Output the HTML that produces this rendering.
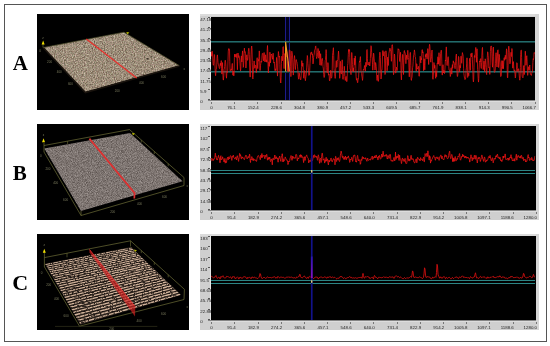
<!DOCTYPE html><html><head><meta charset="utf-8"><style>
html,body{margin:0;padding:0;background:#fff;}
body{width:550px;height:346px;overflow:hidden;position:relative;}
svg{position:absolute;left:0;top:0;}
.lt{font-family:"Liberation Serif",serif;font-weight:bold;font-size:21px;fill:#000;}
.ax{font-family:"Liberation Sans",sans-serif;font-size:4.4px;fill:#222;}
.tl{font-family:"Liberation Sans",sans-serif;font-size:3px;fill:#7a7a5c;}
</style></head><body>
<svg width="550" height="346" viewBox="0 0 550 346" shape-rendering="crispEdges">
<defs>
<filter id="nA" x="0" y="0" width="1" height="1" color-interpolation-filters="sRGB">
 <feTurbulence type="fractalNoise" baseFrequency="0.9 0.7" numOctaves="2" seed="4"/>
 <feColorMatrix type="matrix" values="0.6 0.12 0 0 0.25  0.6 0 0.12 0 0.19  0.6 0 0 0 0.175  0 0 0 0 1"/>
</filter>
<filter id="nB" x="0" y="0" width="1" height="1" color-interpolation-filters="sRGB">
 <feTurbulence type="fractalNoise" baseFrequency="1.2" numOctaves="2" seed="9"/>
 <feColorMatrix type="matrix" values="0.45 0 0 0 0.265  0.45 0 0 0 0.23  0.45 0 0 0 0.215  0 0 0 0 1"/>
</filter>
<filter id="nC" x="0" y="0" width="1" height="1" color-interpolation-filters="sRGB">
 <feTurbulence type="fractalNoise" baseFrequency="0.5 0.8" numOctaves="2" seed="2"/>
 <feColorMatrix type="matrix" values="0 0 0 0 0.08  0 0 0 0 0.06  0 0 0 0 0.05  -7 0 0 0 3.2"/>
</filter>
</defs>
<rect x="0" y="0" width="550" height="346" fill="#fff"/>
<rect x="4.5" y="4.5" width="542" height="337" fill="none" stroke="#555" stroke-width="1"/>

<text class="lt" x="12.8" y="69.7" style="font-size:21px">A</text>
<text class="lt" x="12.8" y="179.7" style="font-size:21px">B</text>
<text class="lt" x="12.3" y="290.3" style="font-size:22px">C</text>
<rect x="37" y="14" width="152" height="96" fill="#000"/>
<rect x="37" y="124" width="152" height="96" fill="#000"/>
<rect x="37" y="234" width="152" height="96" fill="#000"/>
<clipPath id="cA"><polygon points="43.5,47.5 124,32.2 179.3,65.6 85.3,92"/></clipPath>
<g clip-path="url(#cA)"><rect x="40" y="30" width="142" height="64" filter="url(#nA)"/></g>
<polyline points="43.5,48 85.3,92.6 179.3,66.1" fill="none" stroke="#1a140e" stroke-width="1.6" shape-rendering="auto"/>
<polyline points="43.5,47.5 124,32.2 179.3,65.6" fill="none" stroke="#4a4a2a" stroke-width="0.7" shape-rendering="auto"/>
<line x1="86.3" y1="38.9" x2="136.7" y2="78" stroke="#e8302c" stroke-width="1.25" shape-rendering="auto"/>
<ellipse cx="147.5" cy="58.8" rx="1.3" ry="0.9" fill="#2a2218" opacity="0.8" shape-rendering="auto"/><ellipse cx="151.5" cy="56.8" rx="0.9" ry="0.7" fill="#2a2218" opacity="0.6" shape-rendering="auto"/>
<line x1="43" y1="44" x2="43" y2="47.5" stroke="#7a7a3a" stroke-width="0.6" shape-rendering="auto"/>
<polygon points="41.6,44.4 43.1,40.4 44.6,44.4" fill="#f0e000" shape-rendering="auto"/>
<polygon points="126.2,32.0 129.4,32.4 127.6,34.2" fill="#c8c800" shape-rendering="auto"/>
<text class="tl" x="43.1" y="38.8" text-anchor="middle">z</text>
<text class="tl" x="40" y="52.4" text-anchor="middle">0</text>
<text class="tl" x="49.6" y="62.5" text-anchor="middle">200</text>
<text class="tl" x="59.3" y="73" text-anchor="middle">400</text>
<text class="tl" x="70.4" y="85.1" text-anchor="middle">600</text>
<text class="tl" x="117.3" y="92" text-anchor="middle">200</text>
<text class="tl" x="141.5" y="84.4" text-anchor="middle">400</text>
<text class="tl" x="163.6" y="78" text-anchor="middle">600</text>
<text class="tl" x="184.2" y="70.2" text-anchor="middle">x</text>
<clipPath id="cB"><polygon points="44.3,148.6 130,133 182.6,181.2 81,211"/></clipPath>
<g clip-path="url(#cB)"><rect x="40" y="128" width="148" height="86" filter="url(#nB)"/></g>
<polyline points="44,145.5 129.5,129.6 184,177.5" fill="none" stroke="#6e6e38" stroke-width="0.7" shape-rendering="auto"/>
<polyline points="44,152 81,215.5 184,185.5" fill="none" stroke="#6e6e38" stroke-width="0.7" shape-rendering="auto"/>
<line x1="44" y1="143" x2="44" y2="152" stroke="#6e6e38" stroke-width="0.7" shape-rendering="auto"/>
<line x1="184" y1="177.5" x2="184" y2="185.5" stroke="#6e6e38" stroke-width="0.7" shape-rendering="auto"/>
<line x1="81" y1="211" x2="81" y2="215.5" stroke="#6e6e38" stroke-width="0.7" shape-rendering="auto"/>
<line x1="67.6" y1="141.2" x2="67.6" y2="144" stroke="#6e6e38" stroke-width="0.6" shape-rendering="auto"/>
<line x1="141.3" y1="140" x2="141.3" y2="142.6" stroke="#6e6e38" stroke-width="0.6" shape-rendering="auto"/>
<line x1="154.3" y1="151.4" x2="154.3" y2="154" stroke="#6e6e38" stroke-width="0.6" shape-rendering="auto"/>
<line x1="168.2" y1="163.6" x2="168.2" y2="166.2" stroke="#6e6e38" stroke-width="0.6" shape-rendering="auto"/>
<polyline points="89.4,138.6 134.6,193.1 134.3,198.5" fill="none" stroke="#dc3030" stroke-width="1.7" shape-rendering="auto"/>
<polygon points="42,142.3 43.5,138.3 45,142.3" fill="#f0e000" shape-rendering="auto"/>
<polygon points="132,133 135,133.6 133,135.3" fill="#c8c800" shape-rendering="auto"/>
<text class="tl" x="43.5" y="135.8" text-anchor="middle">z</text>
<text class="tl" x="40.9" y="157.1" text-anchor="middle">0</text>
<text class="tl" x="47.9" y="169.5" text-anchor="middle">200</text>
<text class="tl" x="55.7" y="184.3" text-anchor="middle">400</text>
<text class="tl" x="65.6" y="200.7" text-anchor="middle">600</text>
<text class="tl" x="112.7" y="213.3" text-anchor="middle">200</text>
<text class="tl" x="139.5" y="205.3" text-anchor="middle">400</text>
<text class="tl" x="164.5" y="198.4" text-anchor="middle">600</text>
<text class="tl" x="187.3" y="187.1" text-anchor="middle">x</text>
<clipPath id="cC"><polygon points="45.1,263.8 130.8,246.9 181,295 80.5,324.8"/></clipPath>
<g clip-path="url(#cC)"><rect x="40" y="240" width="148" height="90" fill="#2a211b"/><line x1="43.6" y1="264.9" x2="133.5" y2="247.5" stroke="#d2b49c" stroke-width="1" stroke-dasharray="9.2 0.4 13.5 0.3 12 0.5 5.8 0.6 5.5 0.5 5.9 0.3 10.5 0.7 6.6 0.4 13.2 0.8 12.5 0.5 17.7 0.3 16.2 0.4 6.9 0.4 9 0.7 7.3 0.6 13.3 0.5 12.1 0.3 5.8 0.4 13.8 0.5 9.1 0.6" stroke-dashoffset="2.3" shape-rendering="auto"/><line x1="44.6" y1="266.7" x2="135" y2="248.9" stroke="#d2b49c" stroke-width="1" stroke-dasharray="8.9 0.7 14.1 0.4 12.5 0.6 16.4 0.7 8.7 0.8 6.5 0.5 14.8 0.4 11.4 0.3 13.7 0.7 12.4 0.7 9.1 0.6 12.7 0.6 10.9 0.7 17.3 0.5 13.6 0.3 14.1 0.6 17.9 0.7 8.7 0.5 13.7 0.3 11 0.4" stroke-dashoffset="0.6" shape-rendering="auto"/><line x1="45.7" y1="268.5" x2="136.5" y2="250.3" stroke="#d2b49c" stroke-width="1" stroke-dasharray="5.8 0.7 6.7 0.4 10.1 0.7 6 0.5 12.1 0.7 15.7 0.7 8.6 0.5 9.7 0.7 17.5 0.4 7.3 0.4 8 0.5 12.7 0.4 5.1 0.5 9.8 0.6 17.4 0.6 11.7 0.6 13.8 0.3 16.7 0.7 16.4 0.7 10.1 0.5" stroke-dashoffset="0.5" shape-rendering="auto"/><line x1="46.8" y1="270.3" x2="138" y2="251.8" stroke="#d2b49c" stroke-width="1" stroke-dasharray="13.2 0.3 5.9 0.4 7.1 0.5 5.7 0.3 7 0.4 9.7 0.3 16.4 0.6 6.9 0.4 9.5 0.5 6.6 0.7 17.9 0.5 11.3 0.3 6.3 0.5 8.4 0.7 7.1 0.3 17.4 0.6 6.9 0.6 5.4 0.6 17.7 0.7 14.1 0.4" stroke-dashoffset="1.8" shape-rendering="auto"/><line x1="47.9" y1="272.2" x2="139.6" y2="253.3" stroke="#d2b49c" stroke-width="1.1" stroke-dasharray="7.2 0.7 11.9 0.7 9.3 0.4 15.5 0.8 16.1 0.7 15.6 0.7 7.9 0.6 9.6 0.3 5.4 0.4 8.4 0.6 17.4 0.5 17.2 0.8 17.4 0.5 7.9 0.4 7.6 0.4 13.1 0.8 15.9 0.5 13.5 0.7 6.1 0.6 16.8 0.7" stroke-dashoffset="3.8" shape-rendering="auto"/><line x1="49" y1="274.1" x2="141.1" y2="254.8" stroke="#d2b49c" stroke-width="1.1" stroke-dasharray="11.2 0.4 15.3 0.5 15.4 0.8 10.1 0.5 17.3 0.7 7.2 0.4 7 0.8 15.5 0.4 15.7 0.8 13.5 0.5 12.1 0.4 5.2 0.8 13.4 0.6 17.1 0.5 16.3 0.7 7.7 0.4 8.8 0.4 12.6 0.4 10.4 0.4 16.8 0.5" stroke-dashoffset="2.3" shape-rendering="auto"/><line x1="50.1" y1="276.1" x2="142.8" y2="256.4" stroke="#d2b49c" stroke-width="1.1" stroke-dasharray="12.6 0.8 10.5 0.8 11.5 0.6 11.8 0.3 10.7 0.4 5.1 0.7 7.2 0.5 14.4 0.6 9.2 0.6 12.2 0.7 6.4 0.6 8.2 0.4 15 0.6 12.3 0.7 16.9 0.5 13 0.6 11.7 0.6 10.9 0.6 11.2 0.8 14.1 0.7" stroke-dashoffset="4.7" shape-rendering="auto"/><line x1="51.3" y1="278.1" x2="144.4" y2="257.9" stroke="#d2b49c" stroke-width="1.1" stroke-dasharray="8.4 0.6 17.3 0.7 6.8 0.4 10.7 0.3 8.1 0.3 13.7 0.7 16.7 0.4 14.3 0.6 6.9 0.7 17.6 0.4 17.4 0.5 11.3 0.8 15.8 0.4 10.6 0.6 9.4 0.4 9.1 0.7 5.3 0.6 10.7 0.3 9.3 0.6 11.7 0.3" stroke-dashoffset="4.9" shape-rendering="auto"/><line x1="52.5" y1="280.2" x2="146.1" y2="259.5" stroke="#d2b49c" stroke-width="1.1" stroke-dasharray="15.2 0.8 6.4 0.4 5.5 0.7 8.5 0.4 10.5 0.8 15.6 0.4 6.9 0.8 12.4 0.7 6.2 0.3 13.9 0.5 5.9 0.8 13.2 0.7 6.1 0.7 5.9 0.7 10.9 0.5 12.2 0.8 8.5 0.4 11.8 0.4 6.4 0.4 5.7 0.4" stroke-dashoffset="1.6" shape-rendering="auto"/><line x1="53.7" y1="282.3" x2="147.8" y2="261.2" stroke="#d2b49c" stroke-width="1.1" stroke-dasharray="9 0.7 8.8 0.6 7.3 0.5 5.2 0.4 5.2 0.7 12.2 0.4 11.2 0.8 6.4 0.7 10.6 0.5 15.8 0.5 11.6 0.6 17.8 0.5 15.8 0.7 13.3 0.5 9.5 0.3 6.7 0.3 14.6 0.4 7.1 0.3 15.9 0.7 13.7 0.4" stroke-dashoffset="1.2" shape-rendering="auto"/><line x1="54.9" y1="284.4" x2="149.6" y2="262.9" stroke="#d2b49c" stroke-width="1.2" stroke-dasharray="8.8 0.5 7 0.5 8.4 0.8 17.6 0.6 8.2 0.8 9 0.5 5 0.5 11.2 0.6 7.6 0.6 5.1 0.4 6.2 0.5 5.5 0.3 9 0.4 12.6 0.6 14.8 0.6 14.3 0.7 10.1 0.5 17.8 0.4 14.4 0.6 5.6 0.7" stroke-dashoffset="4.5" shape-rendering="auto"/><line x1="56.2" y1="286.5" x2="151.3" y2="264.6" stroke="#d2b49c" stroke-width="1.2" stroke-dasharray="13.2 0.7 15.6 0.4 11.8 0.6 15.9 0.7 15.7 0.6 16.6 0.6 14 0.4 5.4 0.4 9.7 0.4 15.9 0.6 13.2 0.6 13.8 0.5 5 0.7 14.7 0.6 12 0.6 5.9 0.7 8.3 0.3 8.5 0.7 7.7 0.7 17.7 0.5" stroke-dashoffset="1.9" shape-rendering="auto"/><line x1="57.5" y1="288.7" x2="153.2" y2="266.3" stroke="#d2b49c" stroke-width="1.2" stroke-dasharray="11.2 0.6 15 0.6 13.4 0.3 6.9 0.4 14.7 0.5 12.4 0.3 5.8 0.4 13.7 0.6 13.8 0.4 11.7 0.5 11.1 0.4 16.6 0.4 17.7 0.8 5.2 0.5 15.7 0.8 10.8 0.4 7.7 0.8 7.7 0.6 6.8 0.6 17.4 0.4" stroke-dashoffset="4.1" shape-rendering="auto"/><line x1="58.8" y1="291" x2="155" y2="268.1" stroke="#d2b49c" stroke-width="1.2" stroke-dasharray="11.6 0.7 14.1 0.4 16.7 0.5 5.3 0.3 11.4 0.5 8.9 0.4 9.5 0.5 15.9 0.3 14.8 0.7 6.6 0.8 14.3 0.8 8.8 0.5 10.1 0.8 12.7 0.5 10.6 0.4 5.6 0.4 15.9 0.4 17.2 0.4 8.5 0.6 7.5 0.5" stroke-dashoffset="4.8" shape-rendering="auto"/><line x1="60.1" y1="293.3" x2="156.9" y2="269.9" stroke="#d2b49c" stroke-width="1.2" stroke-dasharray="16.5 0.7 13.2 0.8 17.2 0.6 14.4 0.3 14.5 0.5 14.8 0.6 8.7 0.3 17 0.4 11.1 0.5 8.9 0.7 17.7 0.4 13.5 0.5 12.2 0.5 7.2 0.4 7.7 0.8 11.5 0.4 16.8 0.8 10.8 0.4 7.5 0.3 9.4 0.3" stroke-dashoffset="1.2" shape-rendering="auto"/><line x1="61.4" y1="295.6" x2="158.8" y2="271.7" stroke="#d2b49c" stroke-width="1.2" stroke-dasharray="8.4 0.6 16.5 0.7 10.4 0.5 11.8 0.5 9.4 0.3 8.6 0.8 6.6 0.6 13.2 0.7 7.8 0.4 8.2 0.5 10.8 0.8 16 0.7 5.3 0.3 14.2 0.7 11.2 0.6 5 0.5 17 0.7 16.1 0.8 8.2 0.4 7 0.6" stroke-dashoffset="3.4" shape-rendering="auto"/><line x1="62.8" y1="297.9" x2="160.7" y2="273.6" stroke="#d2b49c" stroke-width="1.3" stroke-dasharray="17.2 0.7 13.4 0.7 10.9 0.6 5.5 0.7 8 0.8 13.4 0.5 6.7 0.4 13.3 0.6 6.5 0.3 11.8 0.6 10 0.4 12.8 0.3 8.9 0.5 17.5 0.6 16.5 0.5 8.1 0.4 17.5 0.7 9 0.3 11.5 0.6 10.5 0.4" stroke-dashoffset="3.3" shape-rendering="auto"/><line x1="64.2" y1="300.3" x2="162.7" y2="275.4" stroke="#d2b49c" stroke-width="1.3" stroke-dasharray="17 0.4 5.4 0.5 10.5 0.6 7.6 0.7 14.6 0.6 7.7 0.8 9.1 0.7 8 0.4 14.9 0.4 17.4 0.5 7.4 0.4 10.4 0.6 17.3 0.4 10.1 0.4 17.7 0.4 5.7 0.3 10.1 0.7 16.5 0.7 18 0.8 9.3 0.4" stroke-dashoffset="4.7" shape-rendering="auto"/><line x1="65.6" y1="302.8" x2="164.7" y2="277.4" stroke="#d2b49c" stroke-width="1.3" stroke-dasharray="14.7 0.3 13.6 0.5 9.9 0.5 7.2 0.3 8.6 0.5 17.4 0.4 17.5 0.4 9.6 0.7 15.7 0.5 5.6 0.5 9.8 0.8 7.5 0.5 16.7 0.3 10.3 0.7 15 0.3 5.5 0.3 17 0.4 14.7 0.7 9.4 0.4 17.4 0.6" stroke-dashoffset="1.3" shape-rendering="auto"/><line x1="67" y1="305.2" x2="166.7" y2="279.3" stroke="#d2b49c" stroke-width="1.3" stroke-dasharray="14.3 0.5 8.6 0.3 14.8 0.8 13.2 0.8 5.3 0.4 11.2 0.8 17.4 0.5 8.3 0.5 11.4 0.8 7.4 0.7 14.6 0.7 15 0.6 9.3 0.5 9.7 0.7 6 0.4 14.8 0.4 5.8 0.3 12.2 0.5 17.7 0.7 17.8 0.4" stroke-dashoffset="0.4" shape-rendering="auto"/><line x1="68.5" y1="307.7" x2="168.8" y2="281.3" stroke="#d2b49c" stroke-width="1.3" stroke-dasharray="6.3 0.5 14.2 0.5 8 0.5 13.1 0.6 14.7 0.7 13.6 0.4 15.9 0.4 12.4 0.5 14.6 0.4 8.2 0.4 7 0.7 12.5 0.5 10.1 0.8 11.6 0.4 15.5 0.6 17.9 0.4 11.2 0.7 15.9 0.8 5.5 0.4 6.5 0.4" stroke-dashoffset="4.9" shape-rendering="auto"/><line x1="70" y1="310.3" x2="170.9" y2="283.3" stroke="#d2b49c" stroke-width="1.3" stroke-dasharray="12.6 0.8 9.8 0.7 10.8 0.4 15.1 0.8 6.4 0.6 13.1 0.4 9.8 0.4 7.7 0.4 12.8 0.6 7.6 0.3 9.3 0.6 7.4 0.5 7.6 0.7 12.1 0.3 6.3 0.5 12.2 0.6 6.2 0.4 14 0.5 8.7 0.5 17.4 0.5" stroke-dashoffset="2.8" shape-rendering="auto"/><line x1="71.5" y1="312.9" x2="173" y2="285.3" stroke="#d2b49c" stroke-width="1.4" stroke-dasharray="9.6 0.5 16.2 0.8 9.7 0.4 14.5 0.4 5.1 0.8 10.5 0.7 10.3 0.7 11 0.4 5.2 0.6 13.3 0.8 6.2 0.6 9.8 0.6 6.9 0.4 11.8 0.8 6.4 0.5 15.5 0.8 7.6 0.4 17.3 0.8 11.3 0.3 17 0.5" stroke-dashoffset="4.5" shape-rendering="auto"/><line x1="73" y1="315.5" x2="175.2" y2="287.4" stroke="#d2b49c" stroke-width="1.4" stroke-dasharray="13.1 0.7 7.1 0.7 7.9 0.5 16 0.7 7.4 0.4 10.2 0.6 10 0.4 8.2 0.7 16.7 0.3 12.3 0.7 5.5 0.7 6.5 0.6 12.2 0.6 9 0.5 12.6 0.5 13.6 0.5 10.7 0.3 13 0.5 8.1 0.7 15.1 0.5" stroke-dashoffset="0.9" shape-rendering="auto"/><line x1="74.5" y1="318.2" x2="177.4" y2="289.5" stroke="#d2b49c" stroke-width="1.4" stroke-dasharray="11.2 0.4 6.7 0.5 6.2 0.5 11.6 0.3 13.3 0.3 14.5 0.7 11.6 0.3 11.6 0.5 17.4 0.4 16.1 0.8 14.5 0.7 7.5 0.8 11.4 0.8 16.9 0.4 15.2 0.8 5.9 0.5 14.8 0.4 16.7 0.4 15.6 0.4 11.5 0.8" stroke-dashoffset="1" shape-rendering="auto"/><line x1="76.1" y1="320.9" x2="179.6" y2="291.6" stroke="#d2b49c" stroke-width="1.4" stroke-dasharray="8.4 0.6 9.1 0.3 7.4 0.4 17.2 0.6 16.6 0.4 15.2 0.4 11.9 0.6 9.7 0.7 12.2 0.6 16.5 0.4 17.9 0.6 10.1 0.7 8.4 0.8 12.5 0.5 14.9 0.5 7.3 0.7 5.6 0.7 8.3 0.6 17.8 0.6 13.6 0.5" stroke-dashoffset="0" shape-rendering="auto"/><line x1="77.7" y1="323.6" x2="181.9" y2="293.8" stroke="#d2b49c" stroke-width="1.4" stroke-dasharray="5.4 0.4 13 0.5 11.7 0.7 6.7 0.4 13.5 0.3 5 0.5 6.4 0.5 7.9 0.6 12.7 0.4 13.1 0.5 6.8 0.8 8.2 0.4 6.2 0.6 16.3 0.7 10.2 0.4 5.1 0.6 12.3 0.5 13.4 0.5 17.2 0.7 8.2 0.8" stroke-dashoffset="0.2" shape-rendering="auto"/><rect x="40" y="240" width="148" height="90" fill="#000" filter="url(#nC)" opacity="0.85"/></g>
<polyline points="44.4,257.6 130.5,240.8 184.5,289.4" fill="none" stroke="#6e6e38" stroke-width="0.7" shape-rendering="auto"/>
<polyline points="44.5,267 79.5,326.2 184,299.5" fill="none" stroke="#6e6e38" stroke-width="0.7" shape-rendering="auto"/>
<line x1="44.4" y1="252" x2="44.4" y2="267" stroke="#6e6e38" stroke-width="0.7" shape-rendering="auto"/>
<line x1="184.4" y1="289.4" x2="184" y2="299.5" stroke="#6e6e38" stroke-width="0.7" shape-rendering="auto"/>
<line x1="130.5" y1="240.8" x2="130.5" y2="246.5" stroke="#6e6e38" stroke-width="0.6" shape-rendering="auto"/>
<line x1="141.3" y1="250.5" x2="141.3" y2="253.1" stroke="#6e6e38" stroke-width="0.6" shape-rendering="auto"/>
<line x1="154.3" y1="262.2" x2="154.3" y2="264.8" stroke="#6e6e38" stroke-width="0.6" shape-rendering="auto"/>
<line x1="168.2" y1="274.7" x2="168.2" y2="277.3" stroke="#6e6e38" stroke-width="0.6" shape-rendering="auto"/>
<polygon points="134,249.6 137,250.2 135,251.9" fill="#b8b800" shape-rendering="auto"/>
<line x1="67" y1="253" x2="67" y2="257.3" stroke="#6e6e38" stroke-width="0.6" shape-rendering="auto"/>
<polygon points="89.5,249.3 135.3,306.8 135,316.4 89.5,252.6" fill="#d82020" opacity="0.65" shape-rendering="auto"/>
<line x1="89.5" y1="249.5" x2="135.3" y2="306.8" stroke="#f03030" stroke-width="0.8" shape-rendering="auto"/>
<polygon points="42.8,252.8 44.3,248.8 45.8,252.8" fill="#f0e000" shape-rendering="auto"/>
<line x1="55" y1="326.4" x2="157.3" y2="326.4" stroke="#3a3a22" stroke-width="0.6" shape-rendering="auto"/>
<text class="tl" x="44.3" y="245.8" text-anchor="middle">z</text>
<text class="tl" x="41.7" y="273.6" text-anchor="middle">0</text>
<text class="tl" x="48.7" y="285.8" text-anchor="middle">200</text>
<text class="tl" x="56.5" y="300.3" text-anchor="middle">400</text>
<text class="tl" x="66.1" y="316.9" text-anchor="middle">600</text>
<text class="tl" x="111.8" y="329.8" text-anchor="middle">200</text>
<text class="tl" x="139.1" y="322" text-anchor="middle">400</text>
<text class="tl" x="163.6" y="314.7" text-anchor="middle">600</text>
<text class="tl" x="187.3" y="307.5" text-anchor="middle">x</text>
<rect x="200" y="14" width="339" height="96" fill="#cfcfcf"/>
<rect x="200" y="14" width="339" height="2" fill="#dcdcdc"/>
<rect x="535" y="14" width="4" height="96" fill="#d6d6d6"/>
<rect x="211" y="17" width="324" height="83" fill="#000"/>
<rect x="210" y="17" width="1" height="83" fill="#e6e6e6"/>
<rect x="208" y="100" width="327" height="1" fill="#858585"/>
<rect x="211" y="101" width="324" height="1" fill="#dddddd"/>
<text class="ax" x="200.3" y="21">47.18</text>
<rect x="208" y="17" width="2" height="1" fill="#555"/>
<text class="ax" x="200.3" y="31.2">41.27</text>
<rect x="208" y="27" width="2" height="1" fill="#555"/>
<text class="ax" x="200.3" y="41.5">35.37</text>
<rect x="208" y="38" width="2" height="1" fill="#555"/>
<text class="ax" x="200.3" y="51.8">29.45</text>
<rect x="208" y="48" width="2" height="1" fill="#555"/>
<text class="ax" x="200.3" y="62">23.56</text>
<rect x="208" y="58" width="2" height="1" fill="#555"/>
<text class="ax" x="200.3" y="72.2">17.65</text>
<rect x="208" y="68" width="2" height="1" fill="#555"/>
<text class="ax" x="200.3" y="82.5">11.75</text>
<rect x="208" y="78" width="2" height="1" fill="#555"/>
<text class="ax" x="200.3" y="92.8">5.9</text>
<rect x="208" y="89" width="2" height="1" fill="#555"/>
<text class="ax" x="200.3" y="103">0</text>
<rect x="208" y="99" width="2" height="1" fill="#555"/>
<rect x="211" y="102" width="1" height="2" fill="#777"/>
<text class="ax" x="212.6" y="109" text-anchor="end">0</text>
<rect x="234" y="102" width="1" height="2" fill="#777"/>
<text class="ax" x="235.7" y="109" text-anchor="end">76.1</text>
<rect x="257" y="102" width="1" height="2" fill="#777"/>
<text class="ax" x="258.8" y="109" text-anchor="end">152.4</text>
<rect x="281" y="102" width="1" height="2" fill="#777"/>
<text class="ax" x="281.9" y="109" text-anchor="end">228.6</text>
<rect x="304" y="102" width="1" height="2" fill="#777"/>
<text class="ax" x="305" y="109" text-anchor="end">304.8</text>
<rect x="327" y="102" width="1" height="2" fill="#777"/>
<text class="ax" x="328.1" y="109" text-anchor="end">380.9</text>
<rect x="350" y="102" width="1" height="2" fill="#777"/>
<text class="ax" x="351.1" y="109" text-anchor="end">457.2</text>
<rect x="373" y="102" width="1" height="2" fill="#777"/>
<text class="ax" x="374.2" y="109" text-anchor="end">533.3</text>
<rect x="396" y="102" width="1" height="2" fill="#777"/>
<text class="ax" x="397.3" y="109" text-anchor="end">609.5</text>
<rect x="419" y="102" width="1" height="2" fill="#777"/>
<text class="ax" x="420.4" y="109" text-anchor="end">685.7</text>
<rect x="442" y="102" width="1" height="2" fill="#777"/>
<text class="ax" x="443.5" y="109" text-anchor="end">761.9</text>
<rect x="465" y="102" width="1" height="2" fill="#777"/>
<text class="ax" x="466.6" y="109" text-anchor="end">838.1</text>
<rect x="488" y="102" width="1" height="2" fill="#777"/>
<text class="ax" x="489.7" y="109" text-anchor="end">914.3</text>
<rect x="511" y="102" width="1" height="2" fill="#777"/>
<text class="ax" x="512.8" y="109" text-anchor="end">990.5</text>
<rect x="535" y="102" width="1" height="2" fill="#777"/>
<text class="ax" x="535.9" y="109" text-anchor="end">1066.7</text>
<rect x="200" y="124" width="339" height="96" fill="#cfcfcf"/>
<rect x="200" y="124" width="339" height="2" fill="#dcdcdc"/>
<rect x="536" y="124" width="3" height="96" fill="#d6d6d6"/>
<rect x="211" y="126" width="325" height="84" fill="#000"/>
<rect x="210" y="126" width="1" height="84" fill="#e6e6e6"/>
<rect x="208" y="210" width="328" height="1" fill="#858585"/>
<rect x="211" y="211" width="325" height="1" fill="#dddddd"/>
<text class="ax" x="200.3" y="130">117</text>
<rect x="208" y="126" width="2" height="1" fill="#555"/>
<text class="ax" x="200.3" y="140.4">102</text>
<rect x="208" y="136" width="2" height="1" fill="#555"/>
<text class="ax" x="200.3" y="150.8">87.5</text>
<rect x="208" y="147" width="2" height="1" fill="#555"/>
<text class="ax" x="200.3" y="161.1">72.92</text>
<rect x="208" y="157" width="2" height="1" fill="#555"/>
<text class="ax" x="200.3" y="171.5">58.34</text>
<rect x="208" y="168" width="2" height="1" fill="#555"/>
<text class="ax" x="200.3" y="181.9">43.75</text>
<rect x="208" y="178" width="2" height="1" fill="#555"/>
<text class="ax" x="200.3" y="192.2">29.17</text>
<rect x="208" y="188" width="2" height="1" fill="#555"/>
<text class="ax" x="200.3" y="202.6">14.58</text>
<rect x="208" y="199" width="2" height="1" fill="#555"/>
<text class="ax" x="200.3" y="213">0</text>
<rect x="208" y="209" width="2" height="1" fill="#555"/>
<rect x="211" y="212" width="1" height="2" fill="#777"/>
<text class="ax" x="212.6" y="219" text-anchor="end">0</text>
<rect x="234" y="212" width="1" height="2" fill="#777"/>
<text class="ax" x="235.8" y="219" text-anchor="end">91.4</text>
<rect x="258" y="212" width="1" height="2" fill="#777"/>
<text class="ax" x="258.9" y="219" text-anchor="end">182.9</text>
<rect x="281" y="212" width="1" height="2" fill="#777"/>
<text class="ax" x="282.1" y="219" text-anchor="end">274.2</text>
<rect x="304" y="212" width="1" height="2" fill="#777"/>
<text class="ax" x="305.3" y="219" text-anchor="end">365.6</text>
<rect x="327" y="212" width="1" height="2" fill="#777"/>
<text class="ax" x="328.5" y="219" text-anchor="end">457.1</text>
<rect x="350" y="212" width="1" height="2" fill="#777"/>
<text class="ax" x="351.6" y="219" text-anchor="end">548.6</text>
<rect x="373" y="212" width="1" height="2" fill="#777"/>
<text class="ax" x="374.8" y="219" text-anchor="end">640.0</text>
<rect x="397" y="212" width="1" height="2" fill="#777"/>
<text class="ax" x="398" y="219" text-anchor="end">731.4</text>
<rect x="420" y="212" width="1" height="2" fill="#777"/>
<text class="ax" x="421.1" y="219" text-anchor="end">822.9</text>
<rect x="443" y="212" width="1" height="2" fill="#777"/>
<text class="ax" x="444.3" y="219" text-anchor="end">914.2</text>
<rect x="466" y="212" width="1" height="2" fill="#777"/>
<text class="ax" x="467.5" y="219" text-anchor="end">1005.8</text>
<rect x="489" y="212" width="1" height="2" fill="#777"/>
<text class="ax" x="490.6" y="219" text-anchor="end">1097.1</text>
<rect x="513" y="212" width="1" height="2" fill="#777"/>
<text class="ax" x="513.8" y="219" text-anchor="end">1188.6</text>
<rect x="536" y="212" width="1" height="2" fill="#777"/>
<text class="ax" x="537" y="219" text-anchor="end">1280.0</text>
<rect x="200" y="234" width="339" height="96" fill="#cfcfcf"/>
<rect x="200" y="234" width="339" height="2" fill="#dcdcdc"/>
<rect x="536" y="234" width="3" height="96" fill="#d6d6d6"/>
<rect x="211" y="236" width="325" height="84" fill="#000"/>
<rect x="210" y="236" width="1" height="84" fill="#e6e6e6"/>
<rect x="208" y="320" width="328" height="1" fill="#858585"/>
<rect x="211" y="321" width="325" height="1" fill="#dddddd"/>
<text class="ax" x="200.3" y="240">183</text>
<rect x="208" y="236" width="2" height="1" fill="#555"/>
<text class="ax" x="200.3" y="250.4">160</text>
<rect x="208" y="246" width="2" height="1" fill="#555"/>
<text class="ax" x="200.3" y="260.8">137</text>
<rect x="208" y="257" width="2" height="1" fill="#555"/>
<text class="ax" x="200.3" y="271.1">114</text>
<rect x="208" y="267" width="2" height="1" fill="#555"/>
<text class="ax" x="200.3" y="281.5">91.5</text>
<rect x="208" y="278" width="2" height="1" fill="#555"/>
<text class="ax" x="200.3" y="291.9">68.63</text>
<rect x="208" y="288" width="2" height="1" fill="#555"/>
<text class="ax" x="200.3" y="302.2">45.75</text>
<rect x="208" y="298" width="2" height="1" fill="#555"/>
<text class="ax" x="200.3" y="312.6">22.88</text>
<rect x="208" y="309" width="2" height="1" fill="#555"/>
<text class="ax" x="200.3" y="323">0</text>
<rect x="208" y="319" width="2" height="1" fill="#555"/>
<rect x="211" y="322" width="1" height="2" fill="#777"/>
<text class="ax" x="212.6" y="329" text-anchor="end">0</text>
<rect x="234" y="322" width="1" height="2" fill="#777"/>
<text class="ax" x="235.8" y="329" text-anchor="end">91.4</text>
<rect x="258" y="322" width="1" height="2" fill="#777"/>
<text class="ax" x="258.9" y="329" text-anchor="end">182.9</text>
<rect x="281" y="322" width="1" height="2" fill="#777"/>
<text class="ax" x="282.1" y="329" text-anchor="end">274.2</text>
<rect x="304" y="322" width="1" height="2" fill="#777"/>
<text class="ax" x="305.3" y="329" text-anchor="end">365.6</text>
<rect x="327" y="322" width="1" height="2" fill="#777"/>
<text class="ax" x="328.5" y="329" text-anchor="end">457.1</text>
<rect x="350" y="322" width="1" height="2" fill="#777"/>
<text class="ax" x="351.6" y="329" text-anchor="end">548.6</text>
<rect x="373" y="322" width="1" height="2" fill="#777"/>
<text class="ax" x="374.8" y="329" text-anchor="end">640.0</text>
<rect x="397" y="322" width="1" height="2" fill="#777"/>
<text class="ax" x="398" y="329" text-anchor="end">731.4</text>
<rect x="420" y="322" width="1" height="2" fill="#777"/>
<text class="ax" x="421.1" y="329" text-anchor="end">822.9</text>
<rect x="443" y="322" width="1" height="2" fill="#777"/>
<text class="ax" x="444.3" y="329" text-anchor="end">914.2</text>
<rect x="466" y="322" width="1" height="2" fill="#777"/>
<text class="ax" x="467.5" y="329" text-anchor="end">1005.8</text>
<rect x="489" y="322" width="1" height="2" fill="#777"/>
<text class="ax" x="490.6" y="329" text-anchor="end">1097.1</text>
<rect x="513" y="322" width="1" height="2" fill="#777"/>
<text class="ax" x="513.8" y="329" text-anchor="end">1188.6</text>
<rect x="536" y="322" width="1" height="2" fill="#777"/>
<text class="ax" x="537" y="329" text-anchor="end">1280.0</text>
<clipPath id="pA"><rect x="211" y="17" width="324" height="83"/></clipPath><clipPath id="pB"><rect x="211" y="126" width="325" height="84"/></clipPath><clipPath id="pC"><rect x="211" y="236" width="325" height="84"/></clipPath>
<rect x="285" y="17" width="5" height="83" fill="#00001c"/>
<rect x="285" y="17" width="1" height="83" fill="#1c1c8c"/>
<rect x="289" y="17" width="1" height="83" fill="#1c1c8c"/>
<rect x="211" y="41" width="324" height="1" fill="#226a6a"/><rect x="211" y="42" width="324" height="1" fill="#123c3c"/>
<rect x="211" y="71" width="324" height="1" fill="#226a6a"/><rect x="211" y="72" width="324" height="1" fill="#123c3c"/>
<polyline clip-path="url(#pA)" points="211,52.4 211.3,51.9 211.6,56.2 211.9,56.2 212.2,51.2 212.5,52.5 212.8,59 213.1,64.1 213.4,65.3 213.7,63.5 214,58.3 214.3,54.5 214.6,55.2 214.9,63 215.3,73.4 215.6,75.7 215.9,72.1 216.2,69.4 216.5,68.9 216.8,64.1 217.1,56.9 217.4,54.9 217.7,58.3 218,62.6 218.3,64.6 218.6,64.7 218.9,66.2 219.2,67.8 219.5,68.7 219.8,68.2 220.1,64 220.4,63.2 220.7,65.6 221,62.5 221.3,60.6 221.6,68.7 221.9,74.1 222.2,68.8 222.5,62.6 222.8,70.1 223.1,78.9 223.4,80.1 223.8,75.7 224.1,69.6 224.4,68.8 224.7,66.5 225,61 225.3,60.2 225.6,62.1 225.9,66.2 226.2,75.9 226.5,78.2 226.8,73.8 227.1,71.6 227.4,72.4 227.7,70.2 228,60 228.3,51.1 228.6,48.7 228.9,49.4 229.2,48.8 229.5,49.7 229.8,61.6 230.1,71.3 230.4,71 230.7,70.2 231,68.9 231.3,69.1 231.6,70.4 232,65.3 232.3,63.4 232.6,70.7 232.9,75.2 233.2,72.8 233.5,71.1 233.8,75.9 234.1,72.9 234.4,57.5 234.7,54.1 235,56.9 235.3,54.4 235.6,55.1 235.9,57 236.2,57.5 236.5,55.7 236.8,53.6 237.1,61.4 237.4,69.7 237.7,61.1 238,53 238.3,56.5 238.6,57.5 238.9,55.6 239.2,56.6 239.5,57.9 239.8,60.6 240.2,66.5 240.5,70.8 240.8,68.9 241.1,59.8 241.4,55.9 241.7,61.7 242,62 242.3,54 242.6,50.9 242.9,57 243.2,67.4 243.5,67 243.8,60.5 244.1,51.6 244.4,48.1 244.7,52.3 245,52.3 245.3,51.7 245.6,60.6 245.9,68 246.2,64.9 246.5,57.5 246.8,54.8 247.1,57.1 247.4,60.4 247.7,59.8 248,56.5 248.3,51.7 248.7,48.2 249,48.8 249.3,54.5 249.6,66 249.9,74.7 250.2,77.1 250.5,71.2 250.8,60 251.1,54.1 251.4,48 251.7,46 252,49 252.3,62.4 252.6,77.6 252.9,78.9 253.2,74.7 253.5,69.6 253.8,64.3 254.1,60.9 254.4,63.3 254.7,68.2 255,67.7 255.3,66.4 255.6,65.3 255.9,66.7 256.2,72.7 256.5,72.1 256.9,60.1 257.2,57.7 257.5,67.1 257.8,68.6 258.1,62.7 258.4,59.5 258.7,60.8 259,57 259.3,50.9 259.6,56.8 259.9,70.5 260.2,70.5 260.5,65.4 260.8,63.6 261.1,61.1 261.4,62.2 261.7,62.1 262,55.8 262.3,53.6 262.6,53.1 262.9,53.6 263.2,58.7 263.5,60.8 263.8,55.9 264.1,52.5 264.4,56 264.7,61.8 265.1,61.4 265.4,54.8 265.7,55 266,61.9 266.3,59.8 266.6,60.1 266.9,62.3 267.2,50 267.5,45.5 267.8,51.7 268.1,68.1 268.4,73 268.7,66.5 269,61.8 269.3,66.4 269.6,62.8 269.9,52.2 270.2,55.6 270.5,62.8 270.8,58.9 271.1,55 271.4,54 271.7,55.3 272,55.5 272.3,57.5 272.6,59.3 272.9,53.8 273.2,53.2 273.6,59.9 273.9,63.2 274.2,62.1 274.5,63.4 274.8,69 275.1,70.8 275.4,68.8 275.7,70.4 276,70.3 276.3,63.4 276.6,57.4 276.9,60.7 277.2,71.2 277.5,76.1 277.8,70.7 278.1,57.1 278.4,51.5 278.7,53.8 279,57.2 279.3,56.4 279.6,56 279.9,64.5 280.2,76 280.5,82 280.8,83 281.1,77.4 281.4,63.3 281.8,56.2 282.1,58.5 282.4,60.9 282.7,53.4 283,47 283.3,46.6 283.6,55.4 283.9,68.4 284.2,68.7 284.5,59.2 284.8,53.5 285.1,55.4 285.4,54.6 285.7,54.5 286,57 286.3,54.7 286.6,51.5 286.9,51.6 287.2,61.2 287.5,71.4 287.8,65.9 288.1,61.5 288.4,69.4 288.7,72 289,60.7 289.3,50.5 289.6,50 290,50.3 290.3,53.1 290.6,66.8 290.9,76.6 291.2,71.6 291.5,55.8 291.8,51.2 292.1,52.8 292.4,54.1 292.7,59.2 293,70.9 293.3,75.1 293.6,69.5 293.9,62.8 294.2,58.8 294.5,55.6 294.8,58.5 295.1,66.8 295.4,69.6 295.7,65.6 296,60 296.3,59.6 296.6,61.6 296.9,61.8 297.2,63.9 297.5,66.2 297.8,69.6 298.1,74.4 298.5,79.2 298.8,78.9 299.1,72.7 299.4,73.5 299.7,76.4 300,77.4 300.3,79.3 300.6,80 300.9,79.2 301.2,75.8 301.5,66.4 301.8,60.6 302.1,65.2 302.4,66.4 302.7,63 303,63.6 303.3,70.7 303.6,77.9 303.9,78.3 304.2,74.6 304.5,70.5 304.8,70.9 305.1,78.1 305.4,80.7 305.7,78.2 306,76.1 306.3,74 306.7,67.1 307,60.3 307.3,55.5 307.6,57.1 307.9,63.5 308.2,67.2 308.5,72.5 308.8,75.4 309.1,75.1 309.4,75 309.7,70.5 310,63.6 310.3,59 310.6,54 310.9,52.6 311.2,53.6 311.5,51.9 311.8,52.7 312.1,54.9 312.4,53.9 312.7,58.5 313,63.9 313.3,62 313.6,57.6 313.9,55.6 314.2,54.4 314.5,50.6 314.9,49.5 315.2,48.9 315.5,46.2 315.8,45.9 316.1,50.3 316.4,56.5 316.7,58.6 317,57.5 317.3,56.9 317.6,52.5 317.9,48.4 318.2,48.6 318.5,51.7 318.8,58.2 319.1,56.3 319.4,50.9 319.7,57.1 320,65.1 320.3,59 320.6,53.7 320.9,57.8 321.2,65.5 321.5,64.3 321.8,59.4 322.1,58.9 322.4,58.4 322.7,61.4 323,66.4 323.4,69 323.7,74.5 324,77.5 324.3,77.3 324.6,76.2 324.9,69.2 325.2,60.6 325.5,59.5 325.8,55.3 326.1,49.6 326.4,53.7 326.7,67.6 327,72.8 327.3,72.9 327.6,71.1 327.9,62.6 328.2,65.1 328.5,75.2 328.8,74.1 329.1,74 329.4,80.1 329.7,80.9 330,79 330.3,76.9 330.6,70.2 330.9,70.8 331.2,78.2 331.6,77.9 331.9,76.4 332.2,70.9 332.5,55.7 332.8,52.6 333.1,50.3 333.4,47.7 333.7,55.6 334,68.4 334.3,71.9 334.6,73.4 334.9,76.5 335.2,78.4 335.5,74.9 335.8,67.2 336.1,60.6 336.4,60.8 336.7,67.4 337,67 337.3,61.6 337.6,60 337.9,59.4 338.2,55 338.5,51.1 338.8,54.9 339.1,62.4 339.4,71.5 339.7,78.3 340.1,74.4 340.4,61.3 340.7,63.3 341,72.2 341.3,73.8 341.6,74.1 341.9,66.8 342.2,59.8 342.5,69.3 342.8,79 343.1,79.4 343.4,76.4 343.7,76.1 344,71.5 344.3,66.3 344.6,70.8 344.9,76.5 345.2,80.5 345.5,80.3 345.8,77.2 346.1,76.4 346.4,79 346.7,81.7 347,81.2 347.3,73.9 347.6,65.6 347.9,63.5 348.3,54.4 348.6,49.4 348.9,51.4 349.2,50.9 349.5,49.6 349.8,57.6 350.1,69.4 350.4,69.3 350.7,71.2 351,74.7 351.3,65.9 351.6,52.6 351.9,52.5 352.2,57.7 352.5,64.6 352.8,71.3 353.1,69.5 353.4,67.9 353.7,72 354,66.5 354.3,58.1 354.6,64.8 354.9,64.8 355.2,55.9 355.5,58.4 355.8,68.4 356.1,76.6 356.5,80.2 356.8,79.2 357.1,78.4 357.4,82.4 357.7,82.8 358,80.1 358.3,79.3 358.6,77.3 358.9,71.2 359.2,63.4 359.5,61.3 359.8,62.1 360.1,58.8 360.4,56.6 360.7,62.5 361,71.4 361.3,72.1 361.6,73.4 361.9,76.4 362.2,77.9 362.5,80.4 362.8,78.3 363.1,71.1 363.4,69.3 363.7,70 364,69.5 364.3,67.2 364.6,65.5 365,68.6 365.3,71.2 365.6,66 365.9,62.3 366.2,66.6 366.5,61.4 366.8,50.2 367.1,49.5 367.4,58.3 367.7,64.6 368,64.4 368.3,65.1 368.6,64.2 368.9,62 369.2,62.4 369.5,65.3 369.8,66 370.1,63.2 370.4,58.5 370.7,50.2 371,45.7 371.3,46.8 371.6,52.2 371.9,56.7 372.2,58 372.5,64.5 372.8,70.2 373.2,62.6 373.5,53.1 373.8,53.8 374.1,58.1 374.4,61.1 374.7,65.9 375,70 375.3,67 375.6,62.5 375.9,64 376.2,66.3 376.5,70.6 376.8,78.3 377.1,80.5 377.4,77 377.7,75 378,79 378.3,81.4 378.6,80.1 378.9,73.1 379.2,63.1 379.5,55.3 379.8,52.1 380.1,52.7 380.4,57.5 380.7,71.3 381,79 381.4,76.1 381.7,70 382,70.1 382.3,64.1 382.6,52.1 382.9,50.5 383.2,54.3 383.5,55.7 383.8,53.7 384.1,51.6 384.4,54.2 384.7,63.9 385,74.5 385.3,73.3 385.6,57.7 385.9,50.8 386.2,53 386.5,54.7 386.8,60.3 387.1,70.8 387.4,67.5 387.7,57.2 388,61.2 388.3,65.5 388.6,58.3 388.9,53.4 389.2,52 389.5,50 389.9,48.1 390.2,48.9 390.5,50.4 390.8,49.9 391.1,56.3 391.4,61.3 391.7,50.2 392,44.9 392.3,44.7 392.6,46.4 392.9,54.3 393.2,69 393.5,74.7 393.8,73.6 394.1,63.8 394.4,54 394.7,55 395,61 395.3,68.4 395.6,73 395.9,73.1 396.2,69.3 396.5,67.2 396.8,69 397.1,70.6 397.4,67.6 397.7,54.9 398.1,48.7 398.4,49.5 398.7,49.1 399,49.8 399.3,54.9 399.6,61.1 399.9,61.6 400.2,56.2 400.5,52.3 400.8,58.1 401.1,75.5 401.4,79.9 401.7,73.7 402,65.2 402.3,60.1 402.6,54.4 402.9,55.3 403.2,69.1 403.5,74.5 403.8,62.2 404.1,51.3 404.4,50.5 404.7,52.7 405,52.4 405.3,53.5 405.6,60.7 405.9,63.7 406.3,58.7 406.6,55.1 406.9,58.3 407.2,59.5 407.5,52.6 407.8,50.3 408.1,53.5 408.4,57.5 408.7,59.9 409,69.8 409.3,76.8 409.6,67.9 409.9,55.5 410.2,52.3 410.5,52.6 410.8,65.7 411.1,79.6 411.4,80.4 411.7,78.2 412,77.3 412.3,72.9 412.6,67.7 412.9,66 413.2,61.3 413.5,55.4 413.8,54.8 414.1,52.8 414.4,49.9 414.8,52.3 415.1,56.7 415.4,57.1 415.7,59.6 416,69.6 416.3,71.2 416.6,63.7 416.9,64 417.2,69 417.5,69 417.8,68 418.1,67.6 418.4,66.3 418.7,70 419,76.2 419.3,76.2 419.6,71.1 419.9,62.6 420.2,56.2 420.5,61.1 420.8,62.9 421.1,58.4 421.4,59.8 421.7,56.8 422,49.9 422.3,49.6 422.6,52.9 423,51.8 423.3,57.6 423.6,70.7 423.9,66.3 424.2,58.8 424.5,65.4 424.8,69.8 425.1,61.3 425.4,54.5 425.7,56.9 426,56.5 426.3,53.5 426.6,55.4 426.9,58.6 427.2,59.1 427.5,53.8 427.8,48.6 428.1,51 428.4,59.4 428.7,64.5 429,57.2 429.3,46.2 429.6,44.3 429.9,46.3 430.2,52.2 430.5,60.8 430.8,62.2 431.1,59.2 431.5,56.7 431.8,50.9 432.1,50 432.4,63.1 432.7,78 433,79.3 433.3,75.9 433.6,70.8 433.9,62.5 434.2,63.9 434.5,68.3 434.8,65.2 435.1,67 435.4,76.3 435.7,78.3 436,71.1 436.3,72 436.6,76.7 436.9,69.5 437.2,63.4 437.5,64 437.8,56.8 438.1,57.6 438.4,64.2 438.7,57.2 439,52.7 439.3,56.5 439.7,62 440,65.8 440.3,60.9 440.6,53.5 440.9,51.3 441.2,50.1 441.5,50.6 441.8,61.1 442.1,74.4 442.4,75.1 442.7,68.7 443,64.7 443.3,69.9 443.6,73 443.9,70.3 444.2,71.4 444.5,73.6 444.8,72.3 445.1,65.6 445.4,60 445.7,60.9 446,52.2 446.3,46.9 446.6,54 446.9,65 447.2,65.6 447.5,62 447.9,57.6 448.2,56.7 448.5,60.1 448.8,66.4 449.1,70 449.4,70.1 449.7,70.1 450,72.8 450.3,76.5 450.6,74.5 450.9,68.6 451.2,67.7 451.5,72 451.8,74.2 452.1,68.2 452.4,64.6 452.7,68.3 453,64.5 453.3,60.8 453.6,62.6 453.9,62.1 454.2,62.9 454.5,65.5 454.8,67.8 455.1,68.7 455.4,65.7 455.7,60.9 456,56 456.4,54 456.7,61.8 457,72.6 457.3,76.5 457.6,76.4 457.9,73.6 458.2,65.2 458.5,56.4 458.8,57.1 459.1,62.8 459.4,70.9 459.7,71.8 460,65.4 460.3,68 460.6,66.1 460.9,56.2 461.2,56.2 461.5,62.4 461.8,63.3 462.1,56.3 462.4,52.6 462.7,54 463,54.9 463.3,58.9 463.6,68.4 463.9,73.7 464.2,75.9 464.6,78.5 464.9,79.5 465.2,78.9 465.5,79.1 465.8,76.9 466.1,70.2 466.4,67.8 466.7,63.7 467,57.8 467.3,66.1 467.6,77.4 467.9,77.3 468.2,73 468.5,74.9 468.8,75.7 469.1,69.5 469.4,61.3 469.7,58.3 470,64.8 470.3,70.4 470.6,62.2 470.9,53.6 471.2,55.5 471.5,56.9 471.8,53 472.1,52.9 472.4,59.2 472.8,69.7 473.1,79.3 473.4,81.9 473.7,79.1 474,67.9 474.3,55.7 474.6,55.5 474.9,57.5 475.2,53.3 475.5,49.2 475.8,47.4 476.1,52.3 476.4,62.3 476.7,55.1 477,48.8 477.3,56.4 477.6,69.6 477.9,73.6 478.2,78.8 478.5,82.1 478.8,78.8 479.1,69.1 479.4,62.8 479.7,61 480,62 480.3,58.9 480.6,58.6 480.9,66.5 481.3,68.5 481.6,62.4 481.9,55 482.2,49.1 482.5,47.4 482.8,55.7 483.1,69.7 483.4,69.4 483.7,64.7 484,61.1 484.3,64.8 484.6,71.6 484.9,67.2 485.2,58.8 485.5,60.3 485.8,64.3 486.1,67.3 486.4,73.5 486.7,74.6 487,67.4 487.3,57.5 487.6,51.8 487.9,52.4 488.2,55.7 488.5,60.9 488.8,67.6 489.1,66.9 489.5,68.9 489.8,74.4 490.1,65.6 490.4,51.4 490.7,47 491,45.9 491.3,46 491.6,47.5 491.9,53.8 492.2,62.6 492.5,67.2 492.8,61.2 493.1,48.7 493.4,47.1 493.7,56.6 494,68.9 494.3,72.2 494.6,72.4 494.9,71.6 495.2,70 495.5,63.4 495.8,54.7 496.1,52.7 496.4,57 496.7,64.1 497,67 497.3,58.9 497.7,50.2 498,49.8 498.3,56.8 498.6,67.5 498.9,64.1 499.2,54.3 499.5,57.4 499.8,61 500.1,63 500.4,72.8 500.7,76.5 501,76.4 501.3,75.4 501.6,66.6 501.9,60.6 502.2,68.4 502.5,68.6 502.8,60.8 503.1,64 503.4,68.8 503.7,64.1 504,58.3 504.3,57.6 504.6,60.3 504.9,60.1 505.2,55.2 505.5,55.4 505.8,59.1 506.2,54.6 506.5,48.8 506.8,50.5 507.1,65.4 507.4,77.3 507.7,77.9 508,69.5 508.3,52.7 508.6,46.4 508.9,46.1 509.2,50.2 509.5,58.9 509.8,63.7 510.1,63.8 510.4,62.1 510.7,56.6 511,52.3 511.3,56.6 511.6,55.5 511.9,48.5 512.2,51.2 512.5,64.2 512.8,68.2 513.1,62.9 513.4,61.6 513.7,65.9 514,71.1 514.4,70.9 514.7,69.8 515,74.1 515.3,77.9 515.6,76.5 515.9,71.7 516.2,71.6 516.5,69.3 516.8,62.7 517.1,63 517.4,68.4 517.7,71.6 518,71.3 518.3,68.9 518.6,68.7 518.9,70.9 519.2,75.1 519.5,78.7 519.8,80.2 520.1,78.3 520.4,67.6 520.7,54.6 521,50.3 521.3,50.1 521.6,57.4 521.9,71.5 522.2,76.4 522.6,77 522.9,77.8 523.2,76.1 523.5,67.2 523.8,65.5 524.1,74.4 524.4,74.5 524.7,67.5 525,58.2 525.3,51.2 525.6,55.6 525.9,65.3 526.2,63.7 526.5,57.2 526.8,55.7 527.1,61.2 527.4,70.5 527.7,75.4 528,72.2 528.3,66.7 528.6,67.5 528.9,69.7 529.2,70 529.5,66.1 529.8,65 530.1,71.4 530.4,74.3 530.7,73.9 531.1,75.2 531.4,75.5 531.7,73.4 532,72.2 532.3,72.2 532.6,68.9 532.9,62.5 533.2,58.7 533.5,59.6 533.8,57.9 534.1,52.5 534.4,52.6 534.7,53.6" fill="none" stroke="#f01414" stroke-width="0.75" stroke-linejoin="round" shape-rendering="auto"/>
<polyline points="285.6,71.6 285.6,41.8 289.3,71.3" fill="none" stroke="#f0a020" stroke-width="1.1" shape-rendering="auto"/>
<rect x="211" y="170" width="324" height="1" fill="#2c8484"/><rect x="211" y="173" width="324" height="1" fill="#2c8484"/>
<polyline clip-path="url(#pB)" points="211,161.3 211.3,159.6 211.5,158.7 211.8,158 212,158.5 212.3,159.9 212.5,159.6 212.8,159.8 213,160.8 213.3,160.3 213.5,159 213.8,159.1 214,159.5 214.3,158.7 214.5,158.9 214.8,158.2 215.1,155.1 215.3,153.2 215.6,154.8 215.8,156.7 216.1,156.3 216.3,157.3 216.6,159.6 216.8,159.6 217.1,158.9 217.3,159.8 217.6,159.9 217.8,158.2 218.1,157.1 218.3,155.9 218.6,155.3 218.8,157.2 219.1,158 219.4,157.8 219.6,160.5 219.9,162.8 220.1,162.6 220.4,160.6 220.6,156.2 220.9,155.7 221.1,159.5 221.4,159.8 221.6,158.9 221.9,159.3 222.1,159.1 222.4,157.9 222.6,156.8 222.9,158.1 223.2,159.2 223.4,159.3 223.7,160.8 223.9,161.9 224.2,161.5 224.4,160.5 224.7,161.4 224.9,158.4 225.2,163.2 225.4,162.5 225.7,161.2 225.9,161.2 226.2,162.7 226.4,162.6 226.7,161.1 226.9,158.9 227.2,158.1 227.5,157.9 227.7,157.2 228,158.9 228.2,159.9 228.5,157.3 228.7,156.8 229,157.7 229.2,157.8 229.5,159 229.7,158.8 230,156.9 230.2,155.9 230.5,155.7 230.7,155.6 231,155.9 231.2,156.7 231.5,158.6 231.8,160.4 232,159.1 232.3,156.6 232.5,156.1 232.8,156.9 233,156.4 233.3,155.1 233.5,156.1 233.8,157.6 234,157.8 234.3,158.1 234.5,158.4 234.8,159.1 235,159.1 235.3,157.9 235.6,157 235.8,156.9 236.1,157.7 236.3,159.2 236.6,160 236.8,158.5 237.1,155.9 237.3,155.7 237.6,157.3 237.8,157.8 238.1,158.3 238.3,160.5 238.6,161.4 238.8,159.7 239.1,157.8 239.3,155.7 239.6,153.4 239.9,154.4 240.1,156.1 240.4,154.7 240.6,154.8 240.9,157.3 241.1,158.7 241.4,158.9 241.6,157.9 241.9,156.7 242.1,157.1 242.4,158.1 242.6,157.4 242.9,157.5 243.1,158.3 243.4,158.1 243.7,158.3 243.9,158.9 244.2,159.6 244.4,159.6 244.7,158.9 244.9,157.6 245.2,156.5 245.4,156.6 245.7,155.9 245.9,155 246.2,155.6 246.4,156.3 246.7,156.4 246.9,158 247.2,159 247.4,158.3 247.7,157.8 248,157 248.2,156.4 248.5,156.8 248.7,157.6 249,157.9 249.2,156.4 249.5,154.1 249.7,154.5 250,157.4 250.2,160.9 250.5,162.5 250.7,160.5 251,159 251.2,159.8 251.5,158.4 251.8,156.6 252,157.2 252.3,158.2 252.5,159.9 252.8,160.4 253,158.7 253.3,158.4 253.5,160.1 253.8,160.7 254,159.6 254.3,159.1 254.5,159.3 254.8,159.3 255,159.5 255.3,160.4 255.6,160.8 255.8,160.5 256.1,160.7 256.3,161.4 256.6,161.3 256.8,159.7 257.1,158.4 257.3,157.3 257.6,156.4 257.8,156.4 258.1,155.8 258.3,155.4 258.6,155.7 258.8,156.3 259.1,157.3 259.3,157.8 259.6,157.8 259.9,158.4 260.1,159.7 260.4,159.6 260.6,157.1 260.9,155.1 261.1,156.4 261.4,157.7 261.6,155.3 261.9,153.5 262.1,155.1 262.4,157.5 262.6,156.8 262.9,155.4 263.1,155.9 263.4,155.8 263.6,156.1 263.9,156 264.2,155.3 264.4,156.7 264.7,158.5 264.9,158.8 265.2,157.7 265.4,155.9 265.7,155.3 265.9,156.4 266.2,156.6 266.4,155.2 266.7,154.3 266.9,155.2 267.2,158.1 267.4,160.2 267.7,159.1 268,157.9 268.2,158.9 268.5,159.4 268.7,157.3 269,157.3 269.2,159.1 269.5,157.8 269.7,157 270,158.7 270.2,160.5 270.5,161.6 270.7,161.5 271,160.1 271.2,158.9 271.5,159.2 271.8,160.6 272,161.4 272.3,164.8 272.5,159.3 272.8,158.5 273,158.1 273.3,158 273.5,158.7 273.8,159.9 274,159.9 274.3,158.8 274.5,157.1 274.8,155 275,156 275.3,158 275.5,158.7 275.8,158.8 276.1,156.8 276.3,156.7 276.6,158.4 276.8,158.1 277.1,158 277.3,158.4 277.6,157.9 277.8,160 278.1,162.2 278.3,160.5 278.6,158.5 278.8,158 279.1,158.2 279.3,157.2 279.6,156.1 279.9,157.6 280.1,159 280.4,159.5 280.6,160.9 280.9,161.4 281.1,158.7 281.4,156 281.6,155.9 281.9,155.5 282.1,153.7 282.4,153.9 282.6,156.1 282.9,161.9 283.1,158.7 283.4,159.9 283.6,161.5 283.9,160.9 284.2,160.5 284.4,160.7 284.7,160.1 284.9,158.5 285.2,156.9 285.4,157.3 285.7,158.3 285.9,158.8 286.2,158.9 286.4,159.6 286.7,160.3 286.9,160.2 287.2,160.1 287.4,160.5 287.7,162.5 287.9,164.6 288.2,164.2 288.5,162.5 288.7,161 289,161.4 289.2,161.8 289.5,161.1 289.7,160.6 290,158.9 290.2,157.6 290.5,157.6 290.7,156.8 291,155.5 291.2,155.8 291.5,157.7 291.7,159.5 292,160.3 292.3,159 292.5,158.1 292.8,156 293,158.4 293.3,158 293.5,157.7 293.8,157.1 294,157.4 294.3,158.3 294.5,158 294.8,158 295,158.4 295.3,158.2 295.5,156.6 295.8,154.8 296.1,154.2 296.3,154.4 296.6,154.8 296.8,155.9 297.1,158.9 297.3,160.8 297.6,159.8 297.8,158.7 298.1,157.9 298.3,158.1 298.6,159 298.8,158.3 299.1,157.6 299.3,156.9 299.6,155.3 299.8,155.5 300.1,156.1 300.4,156.4 300.6,154.6 300.9,157.5 301.1,156.7 301.4,155 301.6,155.2 301.9,156.8 302.1,157.6 302.4,157.1 302.6,156.7 302.9,157.3 303.1,158.5 303.4,161.1 303.6,162.6 303.9,160 304.1,157 304.4,156.7 304.7,158.2 304.9,160.5 305.2,160.3 305.4,158.1 305.7,156.8 305.9,156.3 306.2,156.1 306.4,155.5 306.7,154.9 306.9,155.7 307.2,157.3 307.4,157.5 307.7,157.5 307.9,158 308.2,158.4 308.5,160.7 308.7,162.9 309,162 309.2,160.8 309.5,160.3 309.7,160.3 310,161.6 310.2,161.6 310.5,160.7 310.7,161.1 311,159.9 311.2,158.2 311.5,157.9 311.7,158 312,159.4 312.2,160.8 312.5,160.3 312.8,159.2 313,157.4 313.3,155.8 313.5,155.4 313.8,156.8 314,157.7 314.3,155.9 314.5,154.7 314.8,155 315,155.6 315.3,156.6 315.5,156.4 315.8,156.1 316,157.2 316.3,157.6 316.6,156.7 316.8,156.2 317.1,157.5 317.3,159.6 317.6,160.3 317.8,159.1 318.1,156.4 318.3,154.8 318.6,155.7 318.8,156.6 319.1,158.2 319.3,161.6 319.6,163.3 319.8,161.3 320.1,159.3 320.4,158.7 320.6,158.1 320.9,158.8 321.1,162.5 321.4,158.4 321.6,156.7 321.9,154.1 322.1,153.1 322.4,153.3 322.6,155.1 322.9,158.3 323.1,160.3 323.4,160 323.6,159.2 323.9,158.9 324.1,158.7 324.4,160.7 324.7,163.1 324.9,161.4 325.2,159.9 325.4,161.5 325.7,160.9 325.9,158.2 326.2,157.3 326.4,159.3 326.7,161.2 326.9,160.2 327.2,159 327.4,158.8 327.7,160 327.9,162.1 328.2,164 328.4,164.9 328.7,162.7 329,160 329.2,160.7 329.5,162 329.7,161.2 330,160.3 330.2,160.6 330.5,159.7 330.7,158.4 331,158.1 331.2,158.1 331.5,159.4 331.7,161.2 332,161.1 332.2,161.7 332.5,161.7 332.8,159.9 333,160 333.3,159.5 333.5,158.6 333.8,158.8 334,159 334.3,159.8 334.5,159.7 334.8,159.6 335,164.8 335.3,158.7 335.5,156.4 335.8,156.4 336,158.1 336.3,160.1 336.6,161.5 336.8,160.6 337.1,158.4 337.3,158.1 337.6,159.3 337.8,159.9 338.1,158.9 338.3,157.6 338.6,158.2 338.8,160 339.1,160.8 339.3,161.4 339.6,161.5 339.8,160.4 340.1,158.5 340.3,155.8 340.6,153.8 340.9,152.1 341.1,151.1 341.4,152 341.6,153.3 341.9,154.6 342.1,156.3 342.4,157.6 342.6,157.3 342.9,156.1 343.1,157 343.4,159 343.6,159.3 343.9,159.2 344.1,158.3 344.4,157.3 344.6,158.8 344.9,159.6 345.2,157.2 345.4,156 345.7,158 345.9,158.3 346.2,158 346.4,159.7 346.7,158.6 346.9,157 347.2,157.5 347.4,158 347.7,158 347.9,157.6 348.2,156.3 348.4,155.9 348.7,157.4 349,158 349.2,158.8 349.5,161.2 349.7,162.4 350,162 350.2,160.3 350.5,159 350.7,159.7 351,159.8 351.2,159.6 351.5,158.5 351.7,157.3 352,158.1 352.2,159.5 352.5,161.3 352.8,161.4 353,159.3 353.3,156.7 353.5,155.6 353.8,156.4 354,156.1 354.3,155.2 354.5,155 354.8,154.9 355,156.3 355.3,158.2 355.5,160.4 355.8,161.8 356,160.8 356.3,161.1 356.5,162.2 356.8,160.4 357.1,157.7 357.3,156.2 357.6,155.4 357.8,156.6 358.1,158.7 358.3,160 358.6,161 358.8,160.6 359.1,159.6 359.3,160 359.6,160 359.8,160.4 360.1,162.6 360.3,164.3 360.6,164 360.9,161.4 361.1,159.5 361.4,159.2 361.6,160.3 361.9,160.5 362.1,157.9 362.4,156.6 362.6,157.5 362.9,158.7 363.1,159 363.4,157.5 363.6,157.2 363.9,158.2 364.1,158.5 364.4,158.5 364.6,158.7 364.9,159 365.2,159.1 365.4,157.9 365.7,157.7 365.9,159.2 366.2,159.6 366.4,159.7 366.7,160.9 366.9,161.3 367.2,160 367.4,158.5 367.7,158 367.9,159.1 368.2,159.8 368.4,160.3 368.7,160.5 368.9,160.3 369.2,160 369.5,159.6 369.7,160 370,159.5 370.2,159.3 370.5,160.2 370.7,159.9 371,158.4 371.2,157.8 371.5,158.2 371.7,158.3 372,157.1 372.2,156 372.5,157.5 372.7,159.4 373,159.4 373.3,158.7 373.5,157.6 373.8,156.9 374,157 374.3,158 374.5,157.4 374.8,155.8 375,157 375.3,158 375.5,157.6 375.8,156.6 376,155 376.3,155.1 376.5,156 376.8,157.1 377.1,157.9 377.3,157.1 377.6,157.4 377.8,159.8 378.1,159.9 378.3,157.2 378.6,156.2 378.8,157.4 379.1,157.4 379.3,155.6 379.6,155.3 379.8,156.5 380.1,158.2 380.3,159.2 380.6,158.9 380.8,158.8 381.1,158.3 381.4,156 381.6,154 381.9,154.6 382.1,155.9 382.4,157.2 382.6,156 382.9,152.2 383.1,151.2 383.4,152.7 383.6,154.9 383.9,156.5 384.1,156.3 384.4,155.6 384.6,156 384.9,156.1 385.1,155.7 385.4,156.2 385.7,155.2 385.9,154.7 386.2,155.4 386.4,154.5 386.7,154.9 386.9,157.6 387.2,159 387.4,159 387.7,157.5 387.9,155.6 388.2,155.4 388.4,156.1 388.7,157.6 388.9,158.5 389.2,158.4 389.5,156.6 389.7,154.8 390,154.9 390.2,154.3 390.5,154.9 390.7,158.2 391,160.6 391.2,161 391.5,161.2 391.7,160.9 392,160 392.2,160.2 392.5,161 392.7,161.4 393,161.4 393.2,160.5 393.5,159.3 393.8,157.9 394,157.4 394.3,158.6 394.5,160.7 394.8,161 395,158.9 395.3,156.6 395.5,152.1 395.8,157.9 396,159.5 396.3,157.8 396.5,156.5 396.8,157.8 397,157.3 397.3,156.2 397.6,157.3 397.8,157.7 398.1,156.1 398.3,154.4 398.6,155.6 398.8,159.1 399.1,160.5 399.3,157.6 399.6,155.2 399.8,157.1 400.1,159.2 400.3,159 400.6,159.3 400.8,159.8 401.1,161.1 401.4,163.6 401.6,163.5 401.9,161.1 402.1,159.2 402.4,158 402.6,158.1 402.9,159.5 403.1,160.5 403.4,159.7 403.6,159.4 403.9,160.9 404.1,161.6 404.4,161 404.6,159.7 404.9,158.7 405.1,158.3 405.4,160.4 405.7,163.1 405.9,163.4 406.2,163.7 406.4,163.9 406.7,163.4 406.9,162.2 407.2,160.3 407.4,157.8 407.7,155.6 407.9,155.9 408.2,157.4 408.4,159.1 408.7,160.8 408.9,160.7 409.2,159 409.4,159.2 409.7,160.9 410,160.7 410.2,159.9 410.5,158.8 410.7,156.8 411,155.3 411.2,155.4 411.5,158.1 411.7,159.4 412,158.4 412.2,158.8 412.5,159.4 412.7,159.3 413,159.2 413.2,158.8 413.5,159.9 413.8,161.9 414,162.2 414.3,162.4 414.5,163 414.8,163.1 415,162.4 415.3,160.8 415.5,160.1 415.8,160.1 416,158.9 416.3,158.9 416.5,161.3 416.8,162.8 417,162 417.3,159.2 417.6,157.2 417.8,157.5 418.1,158.2 418.3,158.4 418.6,158.6 418.8,159.1 419.1,159.9 419.3,160.1 419.6,159.2 419.8,160 420.1,160.9 420.3,159 420.6,157.6 420.8,158.1 421.1,159.1 421.3,159.7 421.6,159.8 421.9,159.5 422.1,159.1 422.4,159.7 422.6,160.8 422.9,160.3 423.1,158.5 423.4,157.5 423.6,157.2 423.9,158.9 424.1,161.8 424.4,161.8 424.6,159.2 424.9,155.4 425.1,153.6 425.4,154.6 425.6,155.5 425.9,156.4 426.2,156.5 426.4,155.4 426.7,153.8 426.9,153.1 427.2,154.6 427.4,156.5 427.7,155.8 427.9,150.8 428.2,154.4 428.4,155.4 428.7,156.3 428.9,158 429.2,160.1 429.4,155.6 429.7,157.8 430,156.5 430.2,157.1 430.5,163.1 430.7,161.6 431,160.5 431.2,160.7 431.5,161.2 431.7,159.9 432,159.2 432.2,159 432.5,157.9 432.7,157.5 433,157.5 433.2,156.8 433.5,155.8 433.8,155.5 434,156.7 434.3,157.2 434.5,157.1 434.8,157.7 435,158.7 435.3,160.2 435.5,160.2 435.8,158.3 436,157.1 436.3,157.4 436.5,157.1 436.8,156.8 437,158 437.3,158.9 437.5,158.3 437.8,157.4 438.1,157.2 438.3,157.9 438.6,158.3 438.8,159.2 439.1,160.4 439.3,158.9 439.6,157.2 439.8,157 440.1,156.4 440.3,156.2 440.6,155.6 440.8,154.9 441.1,155.7 441.3,157.9 441.6,158.6 441.9,156.7 442.1,156.1 442.4,157.5 442.6,158.7 442.9,159.2 443.1,159.1 443.4,159.4 443.6,160 443.9,159.4 444.1,158.6 444.4,157.6 444.6,155.8 444.9,154.9 445.1,154.6 445.4,155 445.6,156.4 445.9,156.8 446.2,156.2 446.4,155.4 446.7,155.8 446.9,157.6 447.2,158.4 447.4,158.7 447.7,158.7 447.9,158 448.2,158.1 448.4,157.8 448.7,155.7 448.9,153.6 449.2,152.8 449.4,151.6 449.7,151.1 449.9,154 450.2,157.1 450.5,157.6 450.7,158.6 451,158.5 451.2,156.7 451.5,155.6 451.7,154.5 452,154.6 452.2,155.7 452.5,158 452.7,161.5 453,158.5 453.2,161.6 453.5,160 453.7,157.9 454,158.6 454.3,161.1 454.5,161.3 454.8,158.8 455,156.8 455.3,156.5 455.5,157.8 455.8,160.2 456,161.1 456.3,160.3 456.5,159.7 456.8,159 457,158.4 457.3,158.9 457.5,159.4 457.8,157.5 458.1,156 458.3,156.5 458.6,156.5 458.8,156.1 459.1,155.5 459.3,153.9 459.6,153.5 459.8,156 460.1,158.4 460.3,159.9 460.6,160.2 460.8,159.5 461.1,158.9 461.3,158 461.6,157 461.8,156 462.1,156.4 462.4,156.4 462.6,154.2 462.9,154.7 463.1,156.7 463.4,155.7 463.6,155.2 463.9,155.8 464.1,155.8 464.4,156.9 464.6,157.9 464.9,157.8 465.1,156.4 465.4,156 465.6,157.6 465.9,157.5 466.1,156.5 466.4,157.3 466.7,158.3 466.9,157.5 467.2,157 467.4,158 467.7,158 467.9,157.6 468.2,157.7 468.4,157.5 468.7,158.3 468.9,158.8 469.2,158.5 469.4,159.7 469.7,162.1 469.9,161.8 470.2,159.3 470.5,158.2 470.7,156.7 471,154.8 471.2,156.1 471.5,158.2 471.7,158.4 472,159.5 472.2,160.8 472.5,159.5 472.7,157.6 473,158.5 473.2,159.4 473.5,158.6 473.7,159 474,158.2 474.2,155.6 474.5,155.2 474.8,157.2 475,159 475.3,159.3 475.5,157.4 475.8,155.4 476,155.3 476.3,157 476.5,158.3 476.8,159 477,161.2 477.3,163 477.5,162.1 477.8,159.5 478,157.6 478.3,157.4 478.6,158.7 478.8,159 479.1,157.6 479.3,157.1 479.6,157.7 479.8,158.3 480.1,159.6 480.3,161.5 480.6,161.1 480.8,159.7 481.1,159.3 481.3,157.3 481.6,155.2 481.8,155.2 482.1,155.2 482.4,156.4 482.6,158.7 482.9,158.7 483.1,158.9 483.4,161 483.6,161.4 483.9,160.2 484.1,158.3 484.4,156.9 484.6,157.2 484.9,158 485.1,160.3 485.4,162.2 485.6,161.5 485.9,161.9 486.1,161.5 486.4,159.9 486.7,160.7 486.9,160.9 487.2,160.1 487.4,160.1 487.7,159.9 487.9,159.2 488.2,158.2 488.4,157.4 488.7,157 488.9,156.4 489.2,157.1 489.4,158 489.7,156.7 489.9,155.4 490.2,155.5 490.4,156.7 490.7,158.7 491,159.9 491.2,160.5 491.5,160.9 491.7,160.2 492,158.7 492.2,157.8 492.5,157.8 492.7,158.8 493,161.4 493.2,162.8 493.5,161.5 493.7,160.7 494,159.9 494.2,158.5 494.5,158 494.8,158.3 495,159.2 495.3,159.1 495.5,157.7 495.8,156 496,155.7 496.3,157.1 496.5,157 496.8,155 497,154.6 497.3,154.7 497.5,154.2 497.8,156.3 498,157.7 498.3,156.9 498.6,157.5 498.8,157.7 499.1,157.8 499.3,159.1 499.6,158.4 499.8,157.2 500.1,157.3 500.3,158.2 500.6,160 500.8,160.8 501.1,159.9 501.3,159.9 501.6,161.2 501.8,161.7 502.1,161.2 502.3,160.2 502.6,159.5 502.9,159.6 503.1,156.1 503.4,158 503.6,156.1 503.9,156.6 504.1,157.5 504.4,156.1 504.6,155.7 504.9,155.2 505.1,153.9 505.4,155 505.6,157.9 505.9,159.7 506.1,159.9 506.4,159.6 506.6,159.2 506.9,159.1 507.2,159.1 507.4,158.7 507.7,158.1 507.9,159.1 508.2,160.4 508.4,159.3 508.7,158.3 508.9,159.8 509.2,160 509.4,157.8 509.7,157.3 509.9,157.5 510.2,157.1 510.4,157.3 510.7,157.8 511,154.7 511.2,158.3 511.5,158.4 511.7,157.4 512,158 512.2,160.2 512.5,161 512.7,160.2 513,160 513.2,160.1 513.5,159.9 513.7,160.8 514,160.1 514.2,158.5 514.5,159.9 514.8,161.2 515,159.7 515.3,158.7 515.5,158.3 515.8,157.3 516,155.7 516.3,154.1 516.5,154.4 516.8,160.2 517,158.4 517.3,157.8 517.5,156.3 517.8,156 518,156.1 518.3,155.4 518.5,155.7 518.8,157.2 519.1,157.4 519.3,157.4 519.6,157.9 519.8,157.1 520.1,156.1 520.3,156.2 520.6,157.9 520.8,158.2 521.1,155.8 521.3,155.1 521.6,155.6 521.8,156.4 522.1,158.1 522.3,158.8 522.6,159 522.9,158.6 523.1,157.3 523.4,158.3 523.6,160.6 523.9,160.6 524.1,159.9 524.4,159.6 524.6,159.9 524.9,159.4 525.1,159 525.4,161.3 525.6,162 525.9,160.6 526.1,161.1 526.4,161.5 526.6,161.6 526.9,161.1 527.2,159.4 527.4,158.1 527.7,157.3 527.9,155.7 528.2,154.6 528.4,156.7 528.7,158 528.9,157.2 529.2,158.3 529.4,159.9 529.7,160.5 529.9,159.8 530.2,158.5 530.4,158.7 530.7,159 531,159.3 531.2,160.1 531.5,158.9 531.7,157.4 532,158.1 532.2,159.1 532.5,160 532.7,160.6 533,159.9 533.2,160.2 533.5,160.9 533.7,160.3 534,160.6 534.2,160.1 534.5,157.5 534.7,156.3" fill="none" stroke="#f01414" stroke-width="0.8" stroke-linejoin="round" shape-rendering="auto"/>
<rect x="310.9" y="126" width="1.7" height="84" fill="#12128a" shape-rendering="auto"/>
<rect x="311.1" y="170" width="1.3" height="2.6" fill="#f0e070" shape-rendering="auto"/>
<rect x="211" y="280" width="324" height="1" fill="#2c8484"/><rect x="211" y="283" width="324" height="1" fill="#2c8484"/>
<polyline clip-path="url(#pC)" points="211,276.7 211.5,276.4 212,276.3 212.5,276.9 213,277.7 213.5,278 214,277.4 214.5,277.1 215,277.2 215.5,276.4 216,275.5 216.5,276.4 217,278.1 217.5,278.4 218,277.8 218.5,277.3 219,276.9 219.5,277.8 220,278.9 220.5,277.9 221,276.4 221.5,277 222,277.3 222.5,276.3 223,275.7 223.5,276.7 224,277.6 224.5,278.1 225,278.2 225.5,278 226,277.4 226.5,276.4 227,276 227.5,276.5 228,276.7 228.5,276.9 229,277.3 229.5,277.6 230,277.1 230.5,276.8 231,277.6 231.5,278.5 232,278.3 232.5,276.9 233,276.3 233.5,276.9 234,276.9 234.5,276.8 235,278.2 235.5,279 236,278.2 236.5,277.7 237,277.4 237.5,276.8 238,277.4 238.5,278.7 239,278.9 239.5,278 240,277 240.5,277.3 241,278.2 241.5,278 242,277.7 242.5,278.1 243,277.7 243.5,276.8 244,276.4 244.5,276.7 245,277.1 245.5,277.1 246,277.3 246.5,278.3 247,278.9 247.5,277.6 248,277.3 248.5,278 249,277.7 249.5,277.2 250,277.3 250.5,278.2 251,278.8 251.5,278 252,276.8 252.5,277 253,277.8 253.5,277.9 254,277.2 254.5,277.2 255,277.6 255.5,277.8 256,278.1 256.5,278 257,278.1 257.5,278.5 258,278.4 258.5,277.9 259,277.3 259.5,276 260,273.5 260.5,274 261,276.5 261.5,278.1 262,278.4 262.5,278.4 263,278.1 263.5,277.5 264,277.2 264.5,277.5 265,277.8 265.5,278.3 266,278.5 266.5,277.6 267,277.1 267.5,276.9 268,277 268.5,277.6 269,278 269.5,277.5 270,277.1 270.5,277.5 271,277.8 271.5,277.8 272,277.8 272.5,277.4 273,277 273.5,277.1 274,277.1 274.5,276.6 275,277.1 275.5,278.1 276,277.9 276.5,277.6 277,278.2 277.5,276.9 278,276.3 278.5,276.9 279,277.6 279.5,277.8 280,277.6 280.5,277.2 281,277.2 281.5,277.2 282,277.1 282.5,277.4 283,277.2 283.5,277.2 284,277.7 284.5,278.2 285,278.4 285.5,278.1 286,277.6 286.5,277 287,276.9 287.5,277.2 288,276.8 288.5,276.9 289,277.5 289.5,277.2 290,277.1 290.5,277.3 291,277.3 291.5,277.1 292,277.5 292.5,277.6 293,277.5 293.5,277.9 294,278 294.5,277.7 295,277.7 295.5,278.2 296,278.2 296.5,277.2 297,276.8 297.5,277.3 298,277.2 298.5,276.6 299,276.7 299.5,274.6 300,274.2 300.5,276.3 301,277.5 301.5,277.5 302,278.1 302.5,277.8 303,277.2 303.5,276.7 304,275.9 304.5,276 305,276.9 305.5,277.6 306,278.2 306.5,278.4 307,277.4 307.5,277.3 308,278.4 308.5,278.1 309,276.8 309.5,276.3 310,276.5 310.5,276.9 311,277.4 311.5,277.2 312,276.8 312.5,277.6 313,278.2 313.5,278.5 314,278.5 314.5,277.6 315,277.6 315.5,277.3 316,276.7 316.5,277.3 317,277.2 317.5,277.3 318,278.7 318.5,278.8 319,277.8 319.5,277.5 320,277.6 320.5,276.9 321,276.7 321.5,277.1 322,277.3 322.5,277.7 323,278 323.5,277.6 324,277.1 324.5,276.9 325,276.9 325.5,277 326,277.6 326.5,278.2 327,278 327.5,277 328,276.9 328.5,277.3 329,277.5 329.5,276.9 330,276.3 330.5,276.9 331,277.8 331.5,277.6 332,277.2 332.5,277 333,277.3 333.5,277.7 334,277.7 334.5,277.3 335,277.4 335.5,277.9 336,278.4 336.5,278.8 337,278.7 337.5,278.1 338,277.9 338.5,278.2 339,278.4 339.5,277.5 340,276.6 340.5,276.8 341,276 341.5,276.8 342,277.1 342.5,277.2 343,277.9 343.5,278.5 344,278.1 344.5,277.6 345,278.1 345.5,278.7 346,278.3 346.5,278.2 347,277.9 347.5,277.6 348,277.6 348.5,277.5 349,277.1 349.5,276.6 350,276.6 350.5,277.6 351,278.1 351.5,277.4 352,277.5 352.5,278.2 353,278.2 353.5,277.8 354,278 354.5,278.1 355,277.9 355.5,277.7 356,277.9 356.5,278.2 357,278 357.5,278 358,278.2 358.5,277.6 359,277.3 359.5,277.5 360,277.6 360.5,277.4 361,277 361.5,277.6 362,278.3 362.5,275.4 363,273.4 363.5,275.4 364,277.9 364.5,278 365,277.7 365.5,276.7 366,276.5 366.5,277.1 367,276.8 367.5,276.5 368,277 368.5,277 369,276.9 369.5,278 370,278.6 370.5,278 371,277.8 371.5,277.6 372,277.1 372.5,277.3 373,278.1 373.5,279.1 374,276.6 374.5,275.5 375,276.2 375.5,277.3 376,277.7 376.5,277.5 377,277.8 377.5,278.6 378,278.5 378.5,277.4 379,276.9 379.5,277.4 380,277.8 380.5,277.5 381,277.6 381.5,277.7 382,277.5 382.5,277.5 383,277.3 383.5,276.8 384,276.9 384.5,277.3 385,277.1 385.5,277.3 386,277.6 386.5,277 387,277 387.5,277.6 388,277.9 388.5,277.7 389,277 389.5,276.7 390,277 390.5,277.1 391,277.2 391.5,277.2 392,277.2 392.5,277.1 393,276.7 393.5,277.2 394,278.4 394.5,277.8 395,276.5 395.5,276 396,275.7 396.5,275.8 397,276.5 397.5,276.9 398,276.7 398.5,276.5 399,277.1 399.5,277.7 400,277.3 400.5,277 401,277.4 401.5,277.9 402,278.1 402.5,278.5 403,279 403.5,278.7 404,277.9 404.5,277.5 405,278 405.5,278.5 406,278.4 406.5,277.9 407,277.8 407.5,277.9 408,277.8 408.5,278 409,278 409.5,277.5 410,277 410.5,276.6 411,277 411.5,277.3 412,275 412.5,270.9 413,271.8 413.5,275.9 414,277.6 414.5,277.5 415,277.2 415.5,277 416,277.1 416.5,277.4 417,277.5 417.5,277.6 418,277.9 418.5,277.6 419,277.2 419.5,276.9 420,276.8 420.5,277.4 421,277.7 421.5,277.8 422,278.2 422.5,278.5 423,278.1 423.5,277.3 424,273.9 424.5,267.8 425,269 425.5,275.1 426,277.4 426.5,277.2 427,277.4 427.5,276.6 428,276.4 428.5,277.1 429,276.8 429.5,276.9 430,277.8 430.5,278.2 431,278.3 431.5,278.7 432,278.5 432.5,277.2 433,277.2 433.5,278 434,277.6 434.5,277.3 435,277.2 435.5,276.8 436,277.3 436.5,272.5 437,264.3 437.5,266 438,274.2 438.5,276 439,276.7 439.5,278 440,278.1 440.5,277.1 441,276.8 441.5,277.7 442,278.4 442.5,277.7 443,276.9 443.5,276.9 444,276.8 444.5,276.8 445,277.6 445.5,278.8 446,278.4 446.5,277.4 447,277.7 447.5,278.3 448,278.2 448.5,277.6 449,277 449.5,277.4 450,277.8 450.5,278.4 451,279.1 451.5,278.6 452,277.7 452.5,277.5 453,277.9 453.5,278.5 454,278.3 454.5,277.8 455,277.3 455.5,277.3 456,277.5 456.5,277.1 457,276.8 457.5,277.3 458,278.3 458.5,278.4 459,277.5 459.5,277.1 460,277.5 460.5,277.5 461,276.8 461.5,276.8 462,276.5 462.5,275.8 463,276.3 463.5,277.3 464,277.7 464.5,277.1 465,276.9 465.5,277.5 466,277.8 466.5,277.5 467,277.4 467.5,277.9 468,277.7 468.5,277.6 469,278.3 469.5,278.6 470,277.6 470.5,276.6 471,277 471.5,277.6 472,277.6 472.5,278 473,278 473.5,277.1 474,276.5 474.5,276.8 475,274.4 475.5,272.8 476,275.4 476.5,277.9 477,277.8 477.5,277.7 478,278.1 478.5,278.3 479,278.2 479.5,277.7 480,276.9 480.5,276.3 481,276.7 481.5,277.6 482,277.5 482.5,277 483,277.1 483.5,277 484,276.7 484.5,276.8 485,277.6 485.5,278.2 486,277.7 486.5,278.1 487,278.5 487.5,277.1 488,276.8 488.5,277.9 489,278.2 489.5,277.9 490,277.3 490.5,277.3 491,277.5 491.5,277 492,276.6 492.5,276.8 493,276.3 493.5,276.4 494,277.8 494.5,277.4 495,277 495.5,277.7 496,277.5 496.5,277.2 497,276.8 497.5,276.7 498,276.9 498.5,276.8 499,277.1 499.5,276 500,275.7 500.5,276.8 501,277 501.5,277.7 502,277.7 502.5,276.8 503,276.7 503.5,277.1 504,276.9 504.5,277.2 505,278.3 505.5,278.2 506,277.7 506.5,278.1 507,278.6 507.5,278.8 508,278.3 508.5,277.7 509,277.6 509.5,277.6 510,277.8 510.5,276.8 511,276 511.5,276.8 512,276.7 512.5,276.6 513,277.4 513.5,277.6 514,277.7 514.5,277.6 515,277 515.5,277.4 516,277.6 516.5,277 517,276.9 517.5,277.1 518,277.7 518.5,277.8 519,277.9 519.5,278.4 520,277.7 520.5,277.2 521,278.1 521.5,278 522,277.6 522.5,277.6 523,275.9 523.5,273.3 524,273.9 524.5,276.5 525,277 525.5,277.1 526,277.8 526.5,277.9 527,277.5 527.5,277.4 528,277.6 528.5,277.3 529,276.8 529.5,276.4 530,276.3 530.5,276.5 531,277.1 531.5,277.7 532,277.9 532.5,277.3 533,275.9 533.5,274.4 534,275.9 534.5,277.3" fill="none" stroke="#d01010" stroke-width="0.9" shape-rendering="auto"/>
<linearGradient id="pg" x1="0" y1="0" x2="0" y2="1"><stop offset="0" stop-color="#2a14b0"/><stop offset="1" stop-color="#8a10c0"/></linearGradient>
<rect x="310.9" y="236" width="1.7" height="84" fill="#12128a" shape-rendering="auto"/>
<rect x="310.9" y="256.5" width="1.7" height="21.5" fill="url(#pg)" shape-rendering="auto"/>
<rect x="311.1" y="280.2" width="1.3" height="2.6" fill="#f0e070" shape-rendering="auto"/>
</svg></body></html>
